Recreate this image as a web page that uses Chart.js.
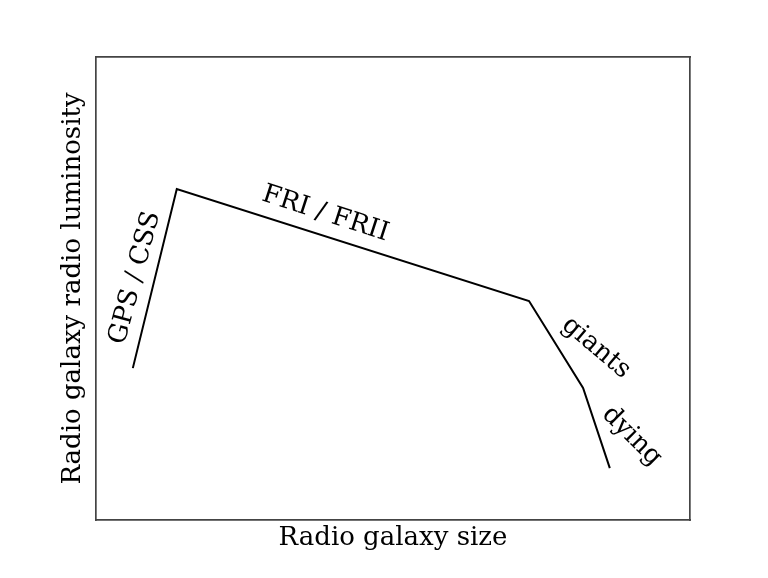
<!DOCTYPE html>
<html lang="en">
<head>
<meta charset="UTF-8">
<title>Radio galaxy evolution sketch</title>
<script src="https://cdn.jsdelivr.net/npm/chart.js"></script>
<style>
  body {
    margin: 0;
    padding: 0;
    background: #fff;
  }
</style>
</head>
<body>
<canvas id="sketch" width="768" height="578"></canvas>
<script>
// track through size / luminosity plane (arbitrary units 0..10)
const sizeValues = [0.62, 1.36, 7.29, 8.20, 8.65];
const lumValues = [3.28, 7.15, 4.73, 2.85, 1.12];

// stage labels, anchored in data units
const stageNames = ['GPS / CSS', 'FRI / FRII', 'giants', 'dying'];
const stageX = [0.66, 3.86, 8.42, 9.02];
const stageY = [5.23, 6.61, 3.72, 1.81];
const stageAngle = [-75, 18, 40, 45];

const serif = "'DejaVu Serif', serif";

// draws the rotated stage labels next to the track
const stageLabels = {
  id: 'stageLabels',
  afterDatasetsDraw(chart) {
    const ctx = chart.ctx;
    const xs = chart.scales.x;
    const ys = chart.scales.y;
    ctx.save();
    ctx.font = '26px ' + serif;
    ctx.fillStyle = '#000';
    ctx.textAlign = 'center';
    ctx.textBaseline = 'middle';
    stageNames.forEach((name, i) => {
      ctx.save();
      ctx.translate(xs.getPixelForValue(stageX[i]), ys.getPixelForValue(stageY[i]));
      ctx.rotate(stageAngle[i] * Math.PI / 180);
      ctx.fillText(name, 0, 0);
      ctx.restore();
    });
    ctx.restore();
  }
};

const frame = { display: true, color: '#444', width: 1.7 };
const noTicks = { display: false };
const noGrid = { display: false, drawTicks: false };

new Chart(document.getElementById('sketch').getContext('2d'), {
  type: 'line',
  data: {
    datasets: [{
      data: sizeValues.map((v, i) => ({ x: v, y: lumValues[i] })),
      borderColor: '#000',
      borderWidth: 2,
      pointRadius: 0,
      fill: false,
      tension: 0
    }]
  },
  options: {
    responsive: false,
    animation: false,
    layout: { padding: { top: 57, right: 78, left: 0, bottom: 0 } },
    plugins: { legend: { display: false }, tooltip: { enabled: false } },
    scales: {
      x: {
        type: 'linear', position: 'bottom', min: 0, max: 10,
        ticks: noTicks, grid: noGrid, border: frame,
        title: { display: true, text: 'Radio galaxy size', color: '#000',
                 font: { family: serif, size: 26 }, padding: { top: 0, bottom: 24 } },
        afterFit(scale) { scale.height = 58; }
      },
      y: {
        type: 'linear', position: 'left', min: 0, max: 10,
        ticks: noTicks, grid: noGrid, border: frame,
        title: { display: true, text: 'Radio galaxy radio luminosity', color: '#000',
                 font: { family: serif, size: 26 }, padding: { top: 58, bottom: 0 } },
        afterFit(scale) { scale.width = 96; }
      },
      xTop: {
        type: 'linear', position: 'top', min: 0, max: 10,
        ticks: noTicks, grid: noGrid, border: frame,
        afterFit(scale) { scale.height = 0; }
      },
      yRight: {
        type: 'linear', position: 'right', min: 0, max: 10,
        ticks: noTicks, grid: noGrid, border: frame,
        afterFit(scale) { scale.width = 0; }
      }
    }
  },
  plugins: [stageLabels]
});
</script>
</body>
</html>
